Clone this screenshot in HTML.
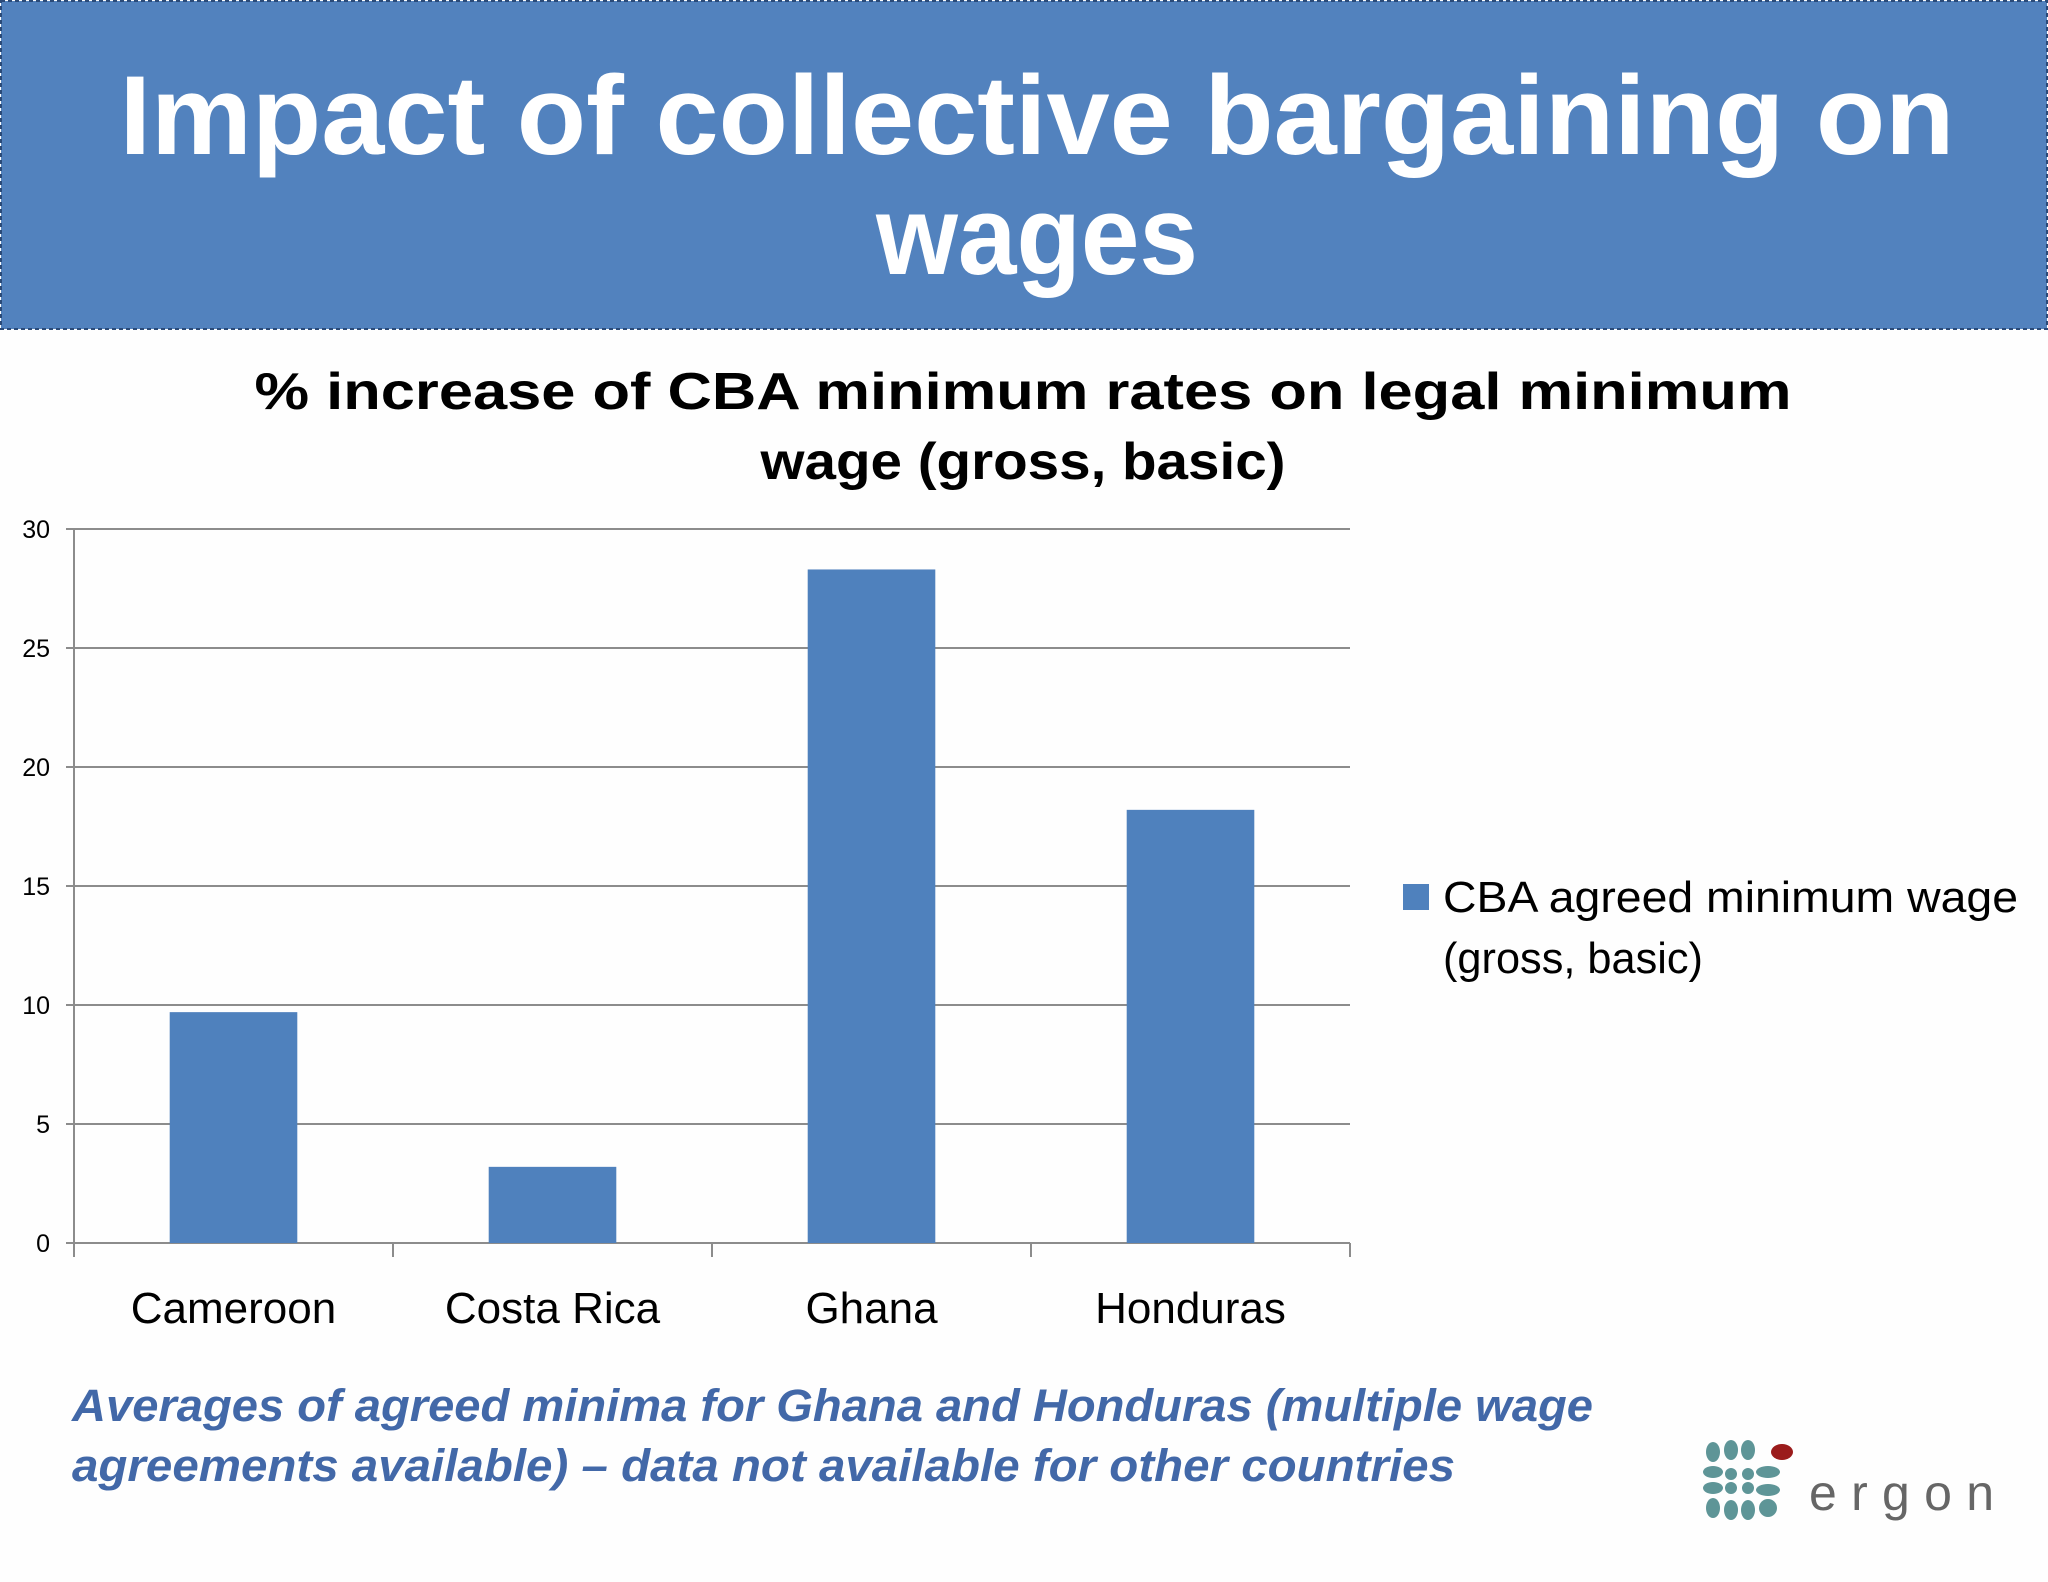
<!DOCTYPE html>
<html><head><meta charset="utf-8"><style>
html,body{margin:0;padding:0;background:#fefefe;}
svg{display:block;}
text{font-family:"Liberation Sans",sans-serif;}
</style></head><body>
<svg id="chart" width="2048" height="1582" viewBox="0 0 2048 1582">
<rect x="0" y="0" width="2048" height="1582" fill="#fefefe"/>
<g>
<rect x="1" y="1" width="2046" height="328" fill="#5282be" stroke="#2a4a78" stroke-width="2" stroke-dasharray="4,3"/>
<text x="1037" y="154" text-anchor="middle" fill="#fff" font-weight="bold" font-size="112" textLength="1835" lengthAdjust="spacingAndGlyphs">Impact of collective bargaining on</text>
<text x="1037" y="274" text-anchor="middle" fill="#fff" font-weight="bold" font-size="112" textLength="322" lengthAdjust="spacingAndGlyphs">wages</text>
</g>
<text x="1023" y="409" text-anchor="middle" fill="#000" font-weight="bold" font-size="52" textLength="1537" lengthAdjust="spacingAndGlyphs">%  increase of CBA minimum rates on legal minimum</text>
<text x="1023" y="479" text-anchor="middle" fill="#000" font-weight="bold" font-size="52" textLength="525" lengthAdjust="spacingAndGlyphs">wage (gross, basic)</text>
<g id="plot"></g>
<g>
<rect x="1403" y="884" width="26" height="26" fill="#4f81bd"/>
<text x="1443" y="912" font-size="44" fill="#000" textLength="575" lengthAdjust="spacingAndGlyphs">CBA agreed minimum wage</text>
<text x="1443" y="973" font-size="44" fill="#000" textLength="260" lengthAdjust="spacingAndGlyphs">(gross, basic)</text>
</g>
<g>
<text x="72" y="1421" font-size="45" font-weight="bold" font-style="italic" fill="#4268a8" textLength="1521" lengthAdjust="spacingAndGlyphs">Averages of agreed minima for Ghana and Honduras (multiple wage</text>
<text x="72" y="1481" font-size="45" font-weight="bold" font-style="italic" fill="#4268a8" textLength="1383" lengthAdjust="spacingAndGlyphs">agreements available) – data not available for other countries</text>
</g>
<g>
<g fill="#5e9597">
<ellipse cx="1713" cy="1452" rx="7" ry="10"/><ellipse cx="1731" cy="1450" rx="7" ry="10"/><ellipse cx="1748" cy="1450" rx="7" ry="10"/>
<ellipse cx="1713" cy="1472" rx="10" ry="6"/><ellipse cx="1731" cy="1474" rx="6" ry="6"/><ellipse cx="1748" cy="1474" rx="6" ry="6"/><ellipse cx="1768" cy="1472" rx="12" ry="6"/>
<ellipse cx="1713" cy="1488" rx="10" ry="6"/><ellipse cx="1731" cy="1488" rx="6" ry="6"/><ellipse cx="1748" cy="1488" rx="6" ry="6"/><ellipse cx="1768" cy="1490" rx="12" ry="6"/>
<ellipse cx="1713" cy="1508" rx="7" ry="10"/><ellipse cx="1731" cy="1510" rx="7" ry="10"/><ellipse cx="1748" cy="1510" rx="7" ry="10"/><ellipse cx="1768" cy="1508" rx="9" ry="9"/>
</g>
<ellipse cx="1782" cy="1452" rx="11" ry="8" fill="#9b1c1c"/>
<text x="1809" y="1510" font-size="50" fill="#666" textLength="185" lengthAdjust="spacing">ergon</text>
</g>
</svg>
<script>
const categories = ["Cameroon", "Costa Rica", "Ghana", "Honduras"];
const values = [9.7, 3.2, 28.3, 18.2];
const yTicks = [0, 5, 10, 15, 20, 25, 30];
const yMax = 30;

const NS = "http://www.w3.org/2000/svg";
const plot = document.getElementById("plot");
const X0 = 74, X1 = 1350, Y0 = 1243, Y1 = 529;
const catW = (X1 - X0) / categories.length;
function yScale(v) { return Y0 - (v / yMax) * (Y0 - Y1); }
function xCenter(i) { return X0 + catW * (i + 0.5); }
function mk(tag, attrs) { const e = document.createElementNS(NS, tag); for (const k in attrs) e.setAttribute(k, attrs[k]); plot.appendChild(e); return e; }

yTicks.forEach(function (t) {
  const y = yScale(t);
  const g = mk("line", { x1: X0 - 8, x2: X1, y1: y, y2: y, stroke: "#8c8c8c", "stroke-width": 2 });
  
  
  const lb = mk("text", { x: 50, y: y + 9, "text-anchor": "end", "font-size": 25, fill: "#000" });
  lb.textContent = String(t);
  
  
});
const ax = mk("line", { x1: X0, x2: X0, y1: Y1, y2: Y0 + 14, stroke: "#8c8c8c", "stroke-width": 2 });


for (let i = 1; i <= categories.length; i++) {
  const tk = mk("line", { x1: X0 + catW * i, x2: X0 + catW * i, y1: Y0, y2: Y0 + 14, stroke: "#8c8c8c", "stroke-width": 2 });
  
  
}
categories.forEach(function (c, i) {
  const bw = catW * 0.4;
  const top = yScale(values[i]);
  const b = mk("rect", { x: xCenter(i) - bw / 2, y: top, width: bw, height: Y0 - top, fill: "#4f81bd" });
  
  
  const lb = mk("text", { x: xCenter(i), y: 1323, "text-anchor": "middle", "font-size": 44, fill: "#000" });
  lb.textContent = c;
  
  
});
</script>
</body></html>
